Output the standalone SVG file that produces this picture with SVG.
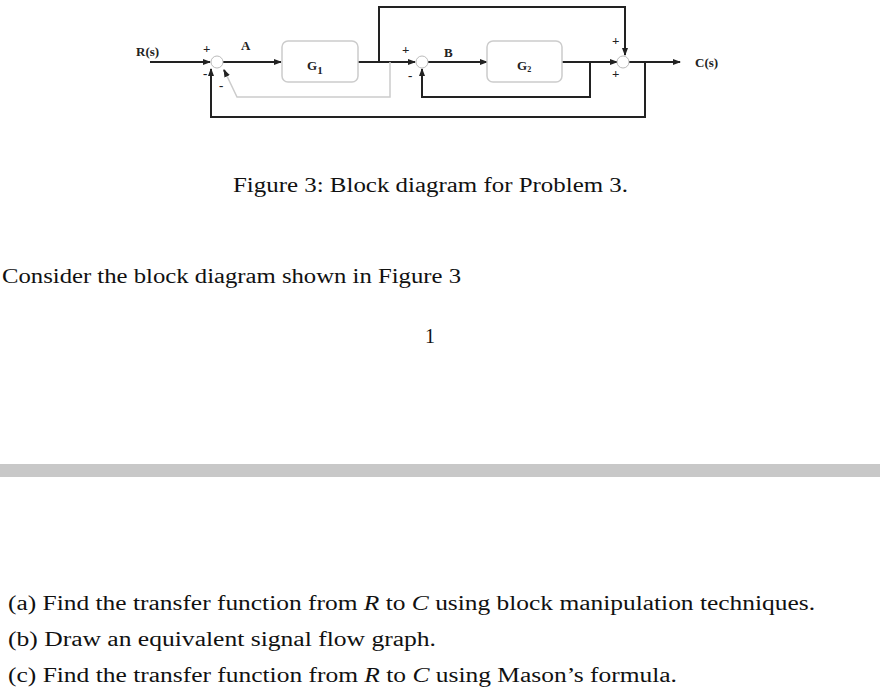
<svg xmlns="http://www.w3.org/2000/svg" width="880" height="691" viewBox="0 0 880 691">
<defs>
<marker id="ar" markerWidth="8" markerHeight="6" refX="7" refY="3" orient="auto" markerUnits="userSpaceOnUse"><path d="M0,0 L8,3 L0,6 z" fill="#222"/></marker>
<style>
.l{fill:none;stroke:#222;stroke-width:2}
.g{fill:none;stroke:#ccc;stroke-width:1.5}
.s{fill:#fff;stroke:#bbb;stroke-width:1}
.b{fill:#fff;stroke:#ccc;stroke-width:1.5}
.t{font-family:"Liberation Serif",serif;font-size:20px;fill:#111}
.d{font-family:"Liberation Serif",serif;font-size:13px;fill:#222;font-weight:bold}
</style>
</defs>
<rect width="880" height="691" fill="#fff"/>
<g id="connectors">
<path class="l" d="M150,62 H210" marker-end="url(#ar)"/>
<path class="l" d="M223,62 H281" marker-end="url(#ar)"/>
<path class="l" d="M358,62 H415" marker-end="url(#ar)"/>
<path class="l" d="M379,62 V7 H625 V55" marker-end="url(#ar)"/>
<path class="g" d="M390,62 V97 H237 L226,74"/>
<path class="l" d="M226,74 L224,70" marker-end="url(#ar)"/>
<path class="l" d="M428,62 H487" marker-end="url(#ar)"/>
<path class="l" d="M562,62 H617" marker-end="url(#ar)"/>
<path class="l" d="M590,62 V97 H422 V69" marker-end="url(#ar)"/>
<path class="l" d="M629,62 H680" marker-end="url(#ar)"/>
<path class="l" d="M645,62 V117 H211 V69" marker-end="url(#ar)"/>
</g>
<g id="sum1"><circle class="s" cx="217" cy="62" r="6"/></g>
<g id="sum2"><circle class="s" cx="422" cy="62" r="6"/></g>
<g id="sum3"><circle class="s" cx="623" cy="62" r="6"/></g>
<g id="G1"><rect class="b" x="282" y="41" width="76" height="41" rx="6"/><text class="d" x="307" y="70">G<tspan font-size="11" dy="4">1</tspan></text></g>
<g id="G2"><rect class="b" x="487" y="41" width="75" height="41" rx="6"/><text class="d" x="517" y="70">G<tspan font-size="8" dy="2">2</tspan></text></g>
<g id="labels">
<text class="d" x="136" y="56" font-weight="normal">R(s)</text>
<text class="d" x="203" y="53">+</text>
<text class="d" x="203" y="78">-</text>
<text class="d" x="219" y="90">-</text>
<text class="d" x="241" y="50">A</text>
<text class="d" x="402" y="54">+</text>
<text class="d" x="408" y="80">-</text>
<text class="d" x="444" y="57">B</text>
<text class="d" x="612" y="45">+</text>
<text class="d" x="612" y="78">+</text>
<text class="d" x="695" y="67" font-weight="normal">C(s)</text>
</g>
<text class="t" x="233" y="192" textLength="395" lengthAdjust="spacingAndGlyphs">Figure 3: Block diagram for Problem 3.</text>
<text class="t" x="2" y="283" textLength="459" lengthAdjust="spacingAndGlyphs">Consider the block diagram shown in Figure 3</text>
<text class="t" x="425" y="343">1</text>
<rect x="0" y="464" width="880" height="13" fill="#c8c8c8"/>
<text class="t" x="8" y="610" textLength="807" lengthAdjust="spacingAndGlyphs">(a)  Find the transfer function from <tspan font-style="italic">R</tspan> to <tspan font-style="italic">C</tspan> using block manipulation techniques.</text>
<text class="t" x="8" y="646" textLength="428" lengthAdjust="spacingAndGlyphs">(b)  Draw an equivalent signal flow graph.</text>
<text class="t" x="8" y="682" textLength="669" lengthAdjust="spacingAndGlyphs">(c)  Find the transfer function from <tspan font-style="italic">R</tspan> to <tspan font-style="italic">C</tspan> using Mason’s formula.</text>
</svg>
